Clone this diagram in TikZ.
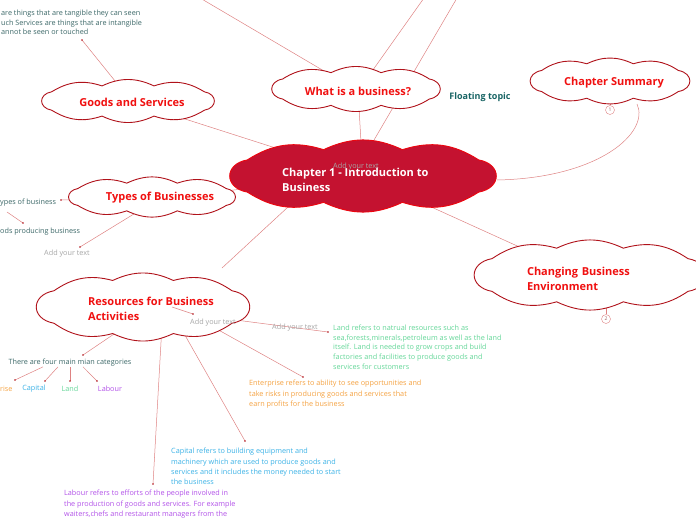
\documentclass[tikz,border=0pt]{standalone}
\usepackage{fontspec}
\setmainfont{Open Sans}
\definecolor{topicred}{RGB}{196,18,48}
\definecolor{edgered}{RGB}{176,18,26}
\definecolor{titlered}{RGB}{240,16,16}
\definecolor{linkred}{RGB}{222,130,130}
\definecolor{noteteal}{RGB}{60,104,104}
\definecolor{floatteal}{RGB}{24,100,100}
\definecolor{landgreen}{RGB}{100,214,152}
\definecolor{enterorange}{RGB}{244,162,66}
\definecolor{capblue}{RGB}{60,178,230}
\definecolor{labpurple}{RGB}{178,82,232}
\pgfdeclarelayer{bg}
\pgfsetlayers{bg,main}

\begin{document}
\begin{tikzpicture}[x=1pt,y=-1pt,
  pics/cloudpic/.style 2 args={code={
    \path[pic actions] ({#1*cos(36)},{#2*sin(36)})
      to[bend left=25] ({#1*cos(74)},{#2*sin(74)})
      to[bend left=25] ({#1*cos(106)},{#2*sin(106)})
      to[bend left=25] ({#1*cos(144)},{#2*sin(144)})
      to[bend left=80,looseness=1.9] ({#1*cos(216)},{#2*sin(216)})
      to[bend left=25] ({#1*cos(254)},{#2*sin(254)})
      to[bend left=25] ({#1*cos(286)},{#2*sin(286)})
      to[bend left=25] ({#1*cos(324)},{#2*sin(324)})
      to[bend left=80,looseness=1.9] ({#1*cos(36)},{#2*sin(36)}) -- cycle;
  }},
  cloudline/.style={draw=edgered, line width=0.9pt, fill=white, line join=round},
  topic/.style={text=titlered, font=\bfseries\fontsize{11}{15}\selectfont, align=left, inner sep=0pt},
  link/.style={draw=linkred, line width=0.5pt},
  note/.style={font=\fontsize{7.25}{10.3}\selectfont, align=left, inner sep=0pt},
  marker/.style={circle, draw=linkred, text=linkred!70!black, inner sep=0pt,
    minimum size=9pt, font=\fontsize{5}{5}\selectfont}]
\useasboundingbox (0,0) rectangle (696,520);

% clouds
\pic[cloudline, fill=topicred, draw=red!70!topicred] at (363,176) {cloudpic={143}{27.4}};
\pic[cloudline] at (356,89) {cloudpic={90.7}{17}};
\pic[cloudline] at (610,81) {cloudpic={84.5}{17.9}};
\pic[cloudline] at (128,101) {cloudpic={94.3}{15.7}};
\pic[cloudline] at (152,197) {cloudpic={91.7}{14.4}};
\pic[cloudline] at (590,275) {cloudpic={121}{27.9}};
\pic[cloudline] at (143,307) {cloudpic={110}{27.6}};

% main topic
\node[minimum width=267, minimum height=72, inner sep=0pt] (main) at (363,176) {};
\node[note, text=gray!70] (mainadd) at (356,167) {Add your text};
\node[topic, text=white, anchor=north west] (maintitle) at (282,168) {Chapter 1 - Introduction to\\Business};

% sub topics
\node[topic] (whatis) at (358,91) {What is a business?};
\node[topic] (summary) at (614,83) {Chapter Summary};
\node[topic] (goods) at (132,102) {Goods and Services};
\node[topic] (types) at (160,198) {Types of Businesses};
\node[topic, text width=126] (changing) at (590,279) {Changing Business\\Environment};
\node[topic] (resources) at (151,309) {Resources for Business\\Activities};
\node[font=\bfseries\fontsize{9}{11}\selectfont, text=floatteal] (floating) at (480,97) {Floating topic};

\node[marker] (sum1) at (610,110) {1};
\node[marker] (sum2) at (606,319) {2};

% free ends
\coordinate (topA) at (200,-2);
\coordinate (topB) at (424,-2);
\coordinate (topC) at (457,-2);
\coordinate (g1) at (82,40);
\coordinate (t1) at (61,200);
\coordinate (t2s) at (7,212);
\coordinate (t2) at (23,223);
\coordinate (t3) at (80,247);
\coordinate (r1) at (193,314);
\coordinate (r2) at (328,332);
\coordinate (r3) at (303,377);
\coordinate (r4) at (245,441);
\coordinate (r5) at (153,484);
\coordinate (r6) at (83,355);
\coordinate (c1) at (15,380);
\coordinate (c2) at (45,381);
\coordinate (c3) at (70,381);
\coordinate (c4) at (97,381);

% notes
\node[note, text=noteteal, anchor=north west, font=\fontsize{7.25}{9.6}\selectfont] (goodsnote) at (1,10) {are things that are tangible they can seen\\uch Services are things that are intangible\\annot be seen or touched};
\node[note, text=noteteal, anchor=west] (typenote) at (0,203) {ypes of business};
\node[note, text=noteteal, anchor=west] (goodsprod) at (0,232) {ods producing business};
\node[note, text=gray!70] (typeadd) at (67,254) {Add your text};
\node[note, text=gray!70] (resadd) at (213,323) {Add your text};
\node[note, text=gray!70] (landadd) at (295,328) {Add your text};
\node[note, text=landgreen, anchor=north west, font=\fontsize{7.25}{9.6}\selectfont] (landnote) at (333,325) {Land refers to natrual resources such as\\sea,forests,minerals,petroleum as well as the land\\itself. Land is needed to grow crops and build\\factories and facilities to produce goods and\\services for customers};
\node[note, text=enterorange, anchor=north west] (enternote) at (249,380) {Enterprise refers to ability to see opportunities and\\take risks in producing goods and services that\\earn profits for the business};
\node[note, text=capblue, anchor=north west] (capnote) at (171,448) {Capital refers to building equipment and\\machinery which are used to produce goods and\\services and it includes the money needed to start\\the business};
\node[note, text=labpurple, anchor=north west] (labnote) at (64,490) {Labour refers to efforts of the people involved in\\the production of goods and services. For example\\waiters,chefs and restaurant managers from the};
\node[note, text=noteteal] (catnote) at (70,363) {There are four main mian categories};
\node[note, text=enterorange, anchor=west] (catent) at (0,389) {rise};
\node[note, text=capblue] (catcap) at (34,389) {Capital};
\node[note, text=landgreen] (catland) at (70,389) {Land};
\node[note, text=labpurple] (catlab) at (110,389) {Labour};

% connectors behind the clouds
\begin{pgfonlayer}{bg}
\draw[link] (main.center) -- (whatis.center);
\draw[link] ([xshift=-10]main.center) -- (topC);
\draw[link] (whatis.center) -- (topA);
\draw[link] (whatis.center) -- (topB);
\draw[link] (goods.center) -- (main.center);
\draw[link] (types.center) -- (main.center);
\draw[link] (changing.center) -- (main.center);
\draw[link] ([shift={(-75,31)}]main.center) -- ([shift={(71,-41)}]resources.center);
\draw[link] ([shift={(23,21)}]summary.center) .. controls (650,132) and (600,178) .. ([shift={(134,4)}]main.center);
\draw[link] (sum1 |- summary.center) -- (sum1);
\draw[link] (sum2) -- (sum2 |- changing.center);
\draw[link] (goods.center) -- (g1);
\draw[link] (types.center) -- (t1);
\draw[link] (types.center) -- (t3);
\draw[link] (resources.center) -- (r2);
\draw[link] ([shift={(-8,-21)}]resources.center) -- (r3);
\draw[link] ([shift={(18,-2)}]resources.center) -- (r4);
\draw[link] ([shift={(12,-2)}]resources.center) -- (r5);
\draw[link] (resources.center) -- (r6);
\end{pgfonlayer}
\draw[link] ([shift={(21,-2)}]resources.center) -- (r1);
\draw[link] (t2s) -- (t2);
\draw[link] ([xshift=-27]catnote.south) -- (c1);
\draw[link] ([xshift=-12]catnote.south) -- (c2);
\draw[link] ([xshift=0]catnote.south) -- (c3);
\draw[link] ([xshift=13]catnote.south) -- (c4);

\foreach \p in {g1,t1,t2,t3,r1,r2,r3,r4,r5,r6,c1,c2,c3,c4}
  \fill[edgered] (\p) circle (0.9pt);
\end{tikzpicture}
\end{document}
